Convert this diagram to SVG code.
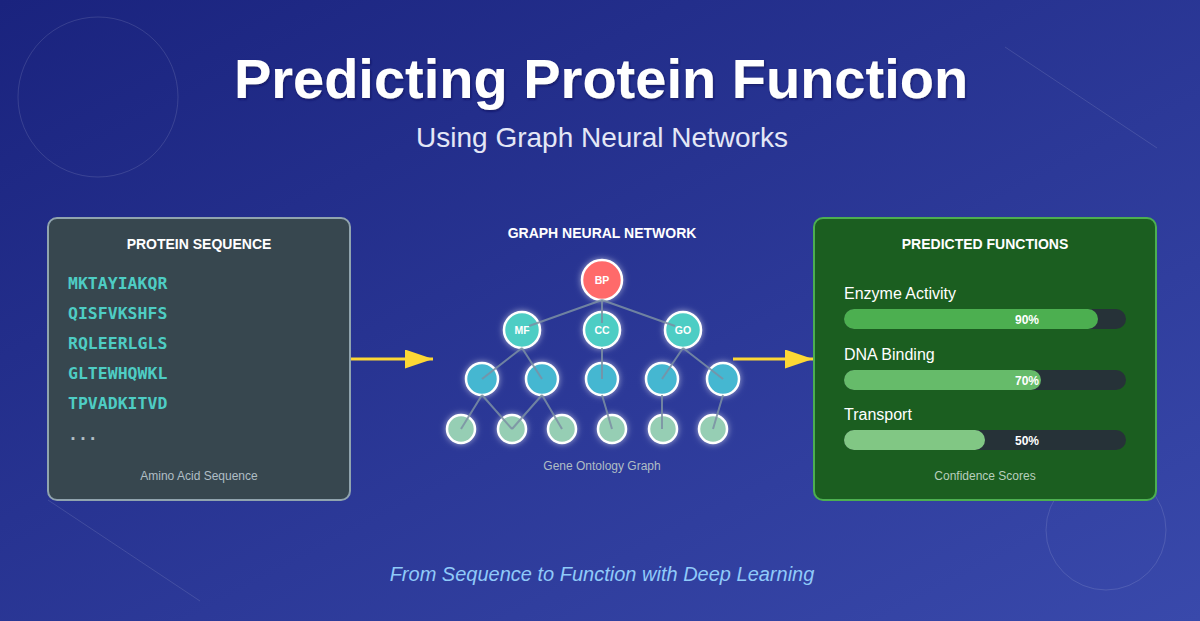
<svg xmlns="http://www.w3.org/2000/svg" width="1200" height="621" viewBox="0 0 1200 621">
  <defs>
    <linearGradient id="bg" x1="0" y1="0" x2="1" y2="1">
      <stop offset="0" stop-color="#1a237e"/>
      <stop offset="1" stop-color="#3949ab"/>
    </linearGradient>
    <filter id="glow" x="-60%" y="-60%" width="220%" height="220%">
      <feGaussianBlur in="SourceAlpha" stdDeviation="3" result="b"/>
      <feFlood flood-color="#ffffff" flood-opacity="0.55"/>
      <feComposite in2="b" operator="in" result="g"/>
      <feMerge><feMergeNode in="g"/><feMergeNode in="SourceGraphic"/></feMerge>
    </filter>
    <filter id="tshadow" x="-5%" y="-20%" width="110%" height="140%">
      <feDropShadow dx="1" dy="1.5" stdDeviation="1" flood-color="#0d1257" flood-opacity="0.7"/>
    </filter>
    <marker id="arrow" viewBox="0 0 28 19" refX="28" refY="9.5" markerWidth="28" markerHeight="19" markerUnits="userSpaceOnUse" orient="auto">
      <polygon points="0,0 28,9.5 0,19" fill="#fdd835"/>
    </marker>
    <style>
      .hdr { font-family: "Liberation Sans", Arial, sans-serif; font-weight: bold; font-size: 14px; fill: #ffffff; text-anchor: middle; }
      .seq { font-family: "DejaVu Sans Mono", "Liberation Mono", monospace; font-weight: bold; font-size: 16.5px; fill: #4ecdc4; }
      .cap { font-family: "Liberation Sans", Arial, sans-serif; font-size: 12px; text-anchor: middle; }
      .lbl { font-family: "Liberation Sans", Arial, sans-serif; font-size: 16px; fill: #ffffff; }
      .pct { font-family: "Liberation Sans", Arial, sans-serif; font-weight: bold; font-size: 12px; fill: #ffffff; text-anchor: middle; }
      .nl { font-family: "Liberation Sans", Arial, sans-serif; font-weight: bold; font-size: 10.5px; fill: #ffffff; text-anchor: middle; }
      .node { stroke: #ffffff; stroke-width: 2.5; filter: url(#glow); }
      .edge { stroke: #7b8fa3; stroke-width: 2; fill: none; stroke-opacity: 0.85; }
      .arr { stroke: #fdd835; stroke-width: 3; fill: none; }
      .deco { stroke: #ffffff; stroke-opacity: 0.12; fill: none; stroke-width: 1; }
      .track { fill: #263238; }
    </style>
  </defs>

  <rect width="1200" height="621" fill="url(#bg)"/>

  <g id="decor">
    <circle class="deco" cx="98" cy="97" r="80"/>
    <line class="deco" x1="1005" y1="47" x2="1157" y2="148"/>
    <line class="deco" x1="48" y1="500" x2="200" y2="601"/>
    <circle class="deco" cx="1106" cy="530" r="60"/>
  </g>

  <g id="title">
    <text x="601" y="98" text-anchor="middle" font-family="'Liberation Sans', Arial, sans-serif" font-weight="bold" font-size="56" fill="#ffffff" filter="url(#tshadow)">Predicting Protein Function</text>
    <text x="602" y="147" text-anchor="middle" font-family="'Liberation Sans', Arial, sans-serif" font-size="28" fill="#e4e7f6">Using Graph Neural Networks</text>
  </g>

  <g id="protein-sequence">
    <rect x="48" y="218" width="302" height="282" rx="9" fill="#37474f" stroke="#90a4ae" stroke-width="2"/>
    <text class="hdr" x="199" y="249">PROTEIN SEQUENCE</text>
    <text class="seq" x="68" y="289">MKTAYIAKQR</text>
    <text class="seq" x="68" y="319">QISFVKSHFS</text>
    <text class="seq" x="68" y="349">RQLEERLGLS</text>
    <text class="seq" x="68" y="379">GLTEWHQWKL</text>
    <text class="seq" x="68" y="409">TPVADKITVD</text>
    <text class="seq" x="68" y="440" style="fill:#b0bec5">...</text>
    <text class="cap" x="199" y="480" fill="#b0bec5">Amino Acid Sequence</text>
  </g>

  <g id="gnn">
    <text class="hdr" x="602" y="238">GRAPH NEURAL NETWORK</text>
    <text class="cap" x="602" y="470" fill="#b0bec5">Gene Ontology Graph</text>
  </g>

  <g id="node-BP"><circle class="node" cx="602" cy="280" r="20" fill="#ff6b6b"/><text class="nl" x="602" y="284">BP</text></g>
  <g id="node-MF"><circle class="node" cx="522" cy="330" r="18" fill="#4ecdc4"/><text class="nl" x="522" y="334">MF</text></g>
  <g id="node-CC"><circle class="node" cx="602" cy="330" r="18" fill="#4ecdc4"/><text class="nl" x="602" y="334">CC</text></g>
  <g id="node-GO"><circle class="node" cx="683" cy="330" r="18" fill="#4ecdc4"/><text class="nl" x="683" y="334">GO</text></g>

  <g id="node-L3a"><circle class="node" cx="482" cy="379" r="16" fill="#45b7d1"/></g>
  <g id="node-L3b"><circle class="node" cx="542" cy="379" r="16" fill="#45b7d1"/></g>
  <g id="node-L3c"><circle class="node" cx="602" cy="379" r="16" fill="#45b7d1"/></g>
  <g id="node-L3d"><circle class="node" cx="662" cy="379" r="16" fill="#45b7d1"/></g>
  <g id="node-L3e"><circle class="node" cx="723" cy="379" r="16" fill="#45b7d1"/></g>

  <g id="node-L4a"><circle class="node" cx="461" cy="429" r="14" fill="#96ceb4"/></g>
  <g id="node-L4b"><circle class="node" cx="512" cy="429" r="14" fill="#96ceb4"/></g>
  <g id="node-L4c"><circle class="node" cx="562" cy="429" r="14" fill="#96ceb4"/></g>
  <g id="node-L4d"><circle class="node" cx="612" cy="429" r="14" fill="#96ceb4"/></g>
  <g id="node-L4e"><circle class="node" cx="663" cy="429" r="14" fill="#96ceb4"/></g>
  <g id="node-L4f"><circle class="node" cx="713" cy="429" r="14" fill="#96ceb4"/></g>

  <g id="predicted-functions">
    <rect x="814" y="218" width="342" height="282" rx="9" fill="#1b5e20" stroke="#4caf50" stroke-width="2"/>
    <text class="hdr" x="985" y="249">PREDICTED FUNCTIONS</text>

    <text class="lbl" x="844" y="299">Enzyme Activity</text>
    <rect class="track" x="844" y="309" width="282" height="20" rx="10"/>
    <rect x="844" y="309" width="254" height="20" rx="10" fill="#4caf50"/>
    <text class="pct" x="1027" y="324">90%</text>

    <text class="lbl" x="844" y="360">DNA Binding</text>
    <rect class="track" x="844" y="370" width="282" height="20" rx="10"/>
    <rect x="844" y="370" width="197" height="20" rx="10" fill="#66bb6a"/>
    <text class="pct" x="1027" y="385">70%</text>

    <text class="lbl" x="844" y="420">Transport</text>
    <rect class="track" x="844" y="430" width="282" height="20" rx="10"/>
    <rect x="844" y="430" width="141" height="20" rx="10" fill="#81c784"/>
    <text class="pct" x="1027" y="445">50%</text>

    <text class="cap" x="985" y="480" fill="#b9cfbd">Confidence Scores</text>
  </g>

  <g id="connectors">
    <line class="edge" x1="602" y1="300" x2="529" y2="326"/>
    <line class="edge" x1="602" y1="300" x2="602" y2="323"/>
    <line class="edge" x1="602" y1="300" x2="675" y2="326"/>
    <line class="edge" x1="522" y1="348" x2="482" y2="379"/>
    <line class="edge" x1="522" y1="348" x2="542" y2="379"/>
    <line class="edge" x1="602" y1="348" x2="602" y2="379"/>
    <line class="edge" x1="683" y1="348" x2="662" y2="379"/>
    <line class="edge" x1="683" y1="348" x2="723" y2="379"/>
    <line class="edge" x1="482" y1="395" x2="461" y2="429"/>
    <line class="edge" x1="482" y1="395" x2="512" y2="429"/>
    <line class="edge" x1="542" y1="395" x2="512" y2="429"/>
    <line class="edge" x1="542" y1="395" x2="562" y2="429"/>
    <line class="edge" x1="602" y1="395" x2="612" y2="429"/>
    <line class="edge" x1="662" y1="395" x2="662" y2="429"/>
    <line class="edge" x1="723" y1="395" x2="713" y2="429"/>
    <line class="arr" x1="351" y1="359" x2="433" y2="359" marker-end="url(#arrow)"/>
    <line class="arr" x1="733" y1="359" x2="813" y2="359" marker-end="url(#arrow)"/>
  </g>

  <text x="602" y="581" text-anchor="middle" font-family="'Liberation Sans', Arial, sans-serif" font-style="italic" font-size="20" fill="#90caf9">From Sequence to Function with Deep Learning</text>
</svg>
